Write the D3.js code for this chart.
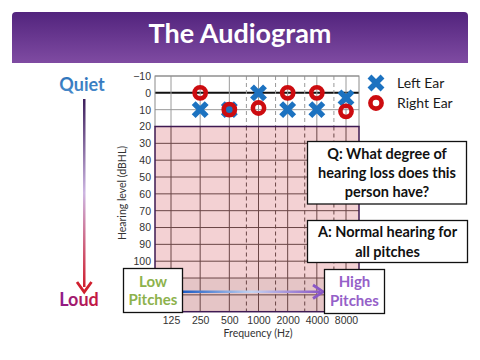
<!DOCTYPE html>
<html>
<head>
<meta charset="utf-8">
<title>The Audiogram</title>
<script src="https://d3js.org/d3.v7.min.js"></script>
<style>
  body { margin: 0; background: #fff; }
  svg { display: block; }
  text { font-family: Lato, "Open Sans", sans-serif; }
  .axis text { font-family: "Liberation Sans", Arial, sans-serif; font-size: 10.5px; fill: #333; }
</style>
</head>
<body>
<svg id="chart" width="480" height="360"></svg>
<script>
// data
const freqs = [125, 250, 500, 1000, 2000, 4000, 8000];
const halfFreqs = [750, 1500, 3000, 6000];
const gridLevels = [-10, 0, 10, 20, 30, 40, 50, 60, 70, 80, 90, 100, 110, 120];
const levelLabels = [-10, 0, 10, 20, 30, 40, 50, 60, 70, 80, 90, 100];
const leftEar = [[250, 10], [500, 10], [1000, 0], [2000, 10], [4000, 10], [8000, 3]];
const rightEar = [[250, 0], [500, 10], [1000, 9], [2000, 0], [4000, 0], [8000, 11]];
const qLines = ["Q: What degree of", "hearing loss does this", "person have?"];
const aLines = ["A: Normal hearing for", "all pitches"];

const svg = d3.select("#chart");
const defs = svg.append("defs");

function grad(id, stops, vertical) {
  const g = defs.append("linearGradient").attr("id", id)
    .attr("x1", 0).attr("y1", 0)
    .attr("x2", vertical ? 0 : 1).attr("y2", vertical ? 1 : 0);
  stops.forEach(s => g.append("stop").attr("offset", s[0]).attr("stop-color", s[1]));
}
grad("banner", [[0, "#52247d"], [1, "#7f4ba2"]], true);
grad("vArrow", [[0, "#3d1f5c"], [0.5, "#cdb6e2"], [1, "#d01f2e"]], true);
grad("hArrow", [[0, "#1c5cc4"], [0.5, "#c4d4f2"], [1, "#8a58c6"]], false);
grad("loud", [[0, "#8c1c8c"], [1, "#c8173c"]], false);
grad("quiet", [[0, "#2a6fb8"], [1, "#4a8ccc"]], true);

// title banner
svg.append("path")
  .attr("d", "M12,63 V16 Q12,12 16,12 H464 Q468,12 468,16 V63 Z")
  .attr("fill", "url(#banner)");
svg.append("text").attr("x", 240).attr("y", 43).attr("text-anchor", "middle")
  .attr("fill", "#fff").attr("font-weight", 700).attr("font-size", 27)
  .text("The Audiogram");

// scales
const x = d3.scaleLog().domain([125, 8000]).range([171, 346]);
const y = d3.scaleLinear().domain([-10, 130]).range([76, 311.7]);
const left = 155, right = 359;

// pink zone (20 dB and below)
svg.append("rect").attr("x", left).attr("y", y(20))
  .attr("width", right - left).attr("height", y(130) - y(20))
  .attr("fill", "#f3d1d3");
svg.append("rect").attr("x", left).attr("y", y(110))
  .attr("width", right - left).attr("height", y(130) - y(110))
  .attr("fill", "#b89a9c").attr("opacity", 0.22);

// grid
const grid = svg.append("g");
gridLevels.forEach(v => {
  grid.append("line").attr("x1", left).attr("x2", right)
    .attr("y1", y(v)).attr("y2", y(v))
    .attr("stroke", v === 0 ? "#111" : (v > 20 ? "#6a4646" : "#9a9a9a"))
    .attr("stroke-width", v === 0 ? 2 : 1);
});
function vline(f, dashed) {
  [[y(-10), y(20), "#9a9a9a"], [y(20), y(130), "#6a4646"]].forEach(p => {
    grid.append("line").attr("x1", x(f)).attr("x2", x(f))
      .attr("y1", p[0]).attr("y2", p[1])
      .attr("stroke", p[2]).attr("stroke-width", 1)
      .attr("stroke-dasharray", dashed ? "4,3" : null);
  });
}
freqs.forEach(f => vline(f, false));
halfFreqs.forEach(f => vline(f, true));

// frame
svg.append("rect").attr("x", left).attr("y", y(-10))
  .attr("width", right - left).attr("height", y(20) - y(-10))
  .attr("fill", "none").attr("stroke", "#8a8a8a").attr("stroke-width", 1);
svg.append("rect").attr("x", left).attr("y", y(20))
  .attr("width", right - left).attr("height", y(130) - y(20))
  .attr("fill", "none").attr("stroke", "#3e1a52").attr("stroke-width", 1.5);

// axes
const yAxis = svg.append("g").attr("class", "axis")
  .attr("transform", `translate(${left},0)`)
  .call(d3.axisLeft(y).tickValues(levelLabels).tickSize(0).tickPadding(4));
yAxis.select(".domain").remove();
const xAxis = svg.append("g").attr("class", "axis")
  .attr("transform", `translate(0,${y(130)})`)
  .call(d3.axisBottom(x).tickValues(freqs).tickFormat(d3.format("d")).tickSize(0).tickPadding(5));
xAxis.select(".domain").remove();

svg.append("text").attr("transform", `translate(126,193) rotate(-90)`)
  .attr("text-anchor", "middle").attr("font-family", "Liberation Sans, Arial, sans-serif")
  .attr("font-size", 10.5).attr("fill", "#333").text("Hearing level (dBHL)");
svg.append("text").attr("x", 258).attr("y", 337).attr("text-anchor", "middle")
  .attr("font-family", "Liberation Sans, Arial, sans-serif")
  .attr("font-size", 10.5).attr("fill", "#333").text("Frequency (Hz)");

// markers
const xPath = "M-6.5,-6.5L6.5,6.5M6.5,-6.5L-6.5,6.5";
svg.append("g").selectAll("path").data(leftEar).join("path")
  .attr("transform", d => `translate(${x(d[0])},${y(d[1])})`)
  .attr("d", xPath).attr("stroke", "#1c72c0").attr("stroke-width", 5.5).attr("fill", "none");
svg.append("g").selectAll("circle").data(rightEar).join("circle")
  .attr("cx", d => x(d[0])).attr("cy", d => y(d[1])).attr("r", 5.6)
  .attr("fill", "none").attr("stroke", "#cc0c10").attr("stroke-width", 4.6);

// legend
svg.append("path").attr("transform", "translate(376,83)").attr("d", xPath)
  .attr("stroke", "#1c72c0").attr("stroke-width", 5.5);
svg.append("circle").attr("cx", 376).attr("cy", 103).attr("r", 5.6)
  .attr("fill", "none").attr("stroke", "#cc0c10").attr("stroke-width", 4.6);
svg.append("text").attr("x", 397).attr("y", 88).attr("font-size", 14).attr("fill", "#1a1a1a").text("Left Ear");
svg.append("text").attr("x", 397).attr("y", 108).attr("font-size", 14).attr("fill", "#1a1a1a").text("Right Ear");

// Quiet / Loud arrow
svg.append("text").attr("x", 82).attr("y", 91).attr("text-anchor", "middle")
  .attr("font-weight", 700).attr("font-size", 18).attr("fill", "url(#quiet)").text("Quiet");
svg.append("rect").attr("x", 83).attr("y", 99).attr("width", 2.5).attr("height", 188)
  .attr("fill", "url(#vArrow)");
svg.append("path").attr("d", "M77,282 L84.2,292 L91.5,282").attr("fill", "none")
  .attr("stroke", "#d01f2e").attr("stroke-width", 2.8);
svg.append("text").attr("x", 79).attr("y", 306).attr("text-anchor", "middle")
  .attr("font-weight", 700).attr("font-size", 18).attr("fill", "url(#loud)").text("Loud");

// Low / High pitches arrow
svg.append("rect").attr("x", 183).attr("y", 290.5).attr("width", 137).attr("height", 2.5)
  .attr("fill", "url(#hArrow)");
svg.append("path").attr("d", "M313,285 L323,291.7 L313,298.5").attr("fill", "none")
  .attr("stroke", "#8a58c6").attr("stroke-width", 2.8);

function textBox(x0, y0, w, h, lines, lineY, color, size) {
  svg.append("rect").attr("x", x0).attr("y", y0).attr("width", w).attr("height", h)
    .attr("fill", "#fff").attr("stroke", "#111").attr("stroke-width", 1.3);
  lines.forEach((t, i) => {
    svg.append("text").attr("x", x0 + w / 2).attr("y", lineY[i])
      .attr("text-anchor", "middle").attr("font-weight", 700)
      .attr("font-size", size).attr("fill", color).text(t);
  });
}
textBox(123.5, 268.5, 59, 44, ["Low", "Pitches"], [286.5, 305], "#8db24c", 15);
textBox(324.5, 269.5, 60, 44, ["High", "Pitches"], [287, 305.5], "#9560c8", 15);
textBox(307.5, 141.5, 159, 62.5, qLines, [159, 178, 197], "#111", 14.5);
textBox(307.5, 220.5, 160, 42, aLines, [236.5, 256.5], "#111", 14.5);
</script>
</body>
</html>
